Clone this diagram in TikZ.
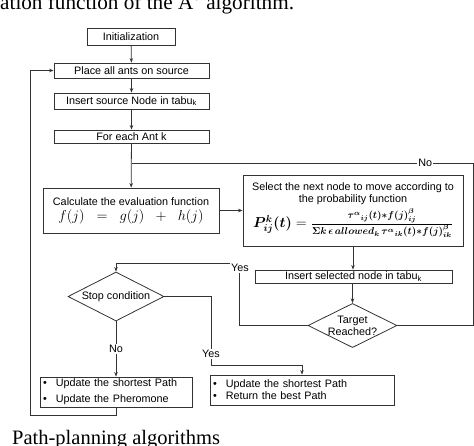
\documentclass[tikz,border=0pt]{standalone}
\usepackage{amsmath, amssymb, bm}
\usepackage{fontspec}
\setmainfont{Liberation Serif}
\setsansfont{Liberation Sans}
\usetikzlibrary{shapes.geometric, arrows.meta}

\begin{document}
\begin{tikzpicture}[x=1pt, y=-1pt, >={Stealth[length=4.5pt,width=3.5pt]},
  box/.style={draw=black!80, line width=0.8pt, inner sep=0pt, align=center,
    font=\sffamily\fontsize{10.8}{12}\selectfont},
  decision/.style={diamond, aspect=2, draw=black!80, line width=0.8pt, inner sep=0pt,
    align=center, font=\sffamily\fontsize{10.8}{12}\selectfont},
  flow/.style={draw=black!80, line width=0.8pt},
  lbl/.style={fill=white, inner sep=1pt, font=\sffamily\fontsize{10.8}{12}\selectfont}]
\useasboundingbox (0,0) rectangle (474,445);
\clip (0,0) rectangle (474,445);
\node[anchor=base west, inner sep=0pt, font=\fontsize{21.2}{24}\selectfont] (toptext) at (0,9) {ation function of the A$^*$ algorithm.};
\node[anchor=base west, inner sep=0pt, font=\fontsize{20.5}{24}\selectfont] (bottext) at (12,444.5) {Path-planning algorithms};

\node[box, minimum width=88pt, minimum height=17pt] (init) at (131,36.5) {Initialization};
\node[box, minimum width=155pt, minimum height=15pt] (place) at (131.5,70.5) {Place all ants on source};
\node[box, minimum width=155pt, minimum height=16pt] (insert) at (131.5,101) {Insert source Node in tabu\textsubscript{k}};
\node[box, minimum width=155pt, minimum height=13pt] (foreach) at (131.5,136.5) {For each Ant k};
\node[box, minimum width=176pt, minimum height=45pt] (calc) at (131,210.5) {Calculate the evaluation function\\[3pt]
  {\fontsize{14.5}{15}\selectfont $f(j) \;\;=\;\; g(j) \;\;+\;\; h(j)$}};
\node[box, minimum width=220pt, minimum height=71pt] (select) at (353,210.5) {Select the next node to move according to\\
  the probability function\\[3pt]
  {\fontsize{14.5}{15}\selectfont $\bm{P^k_{ij}(t)} = \frac{\bm{\tau^{\alpha}{}_{ij}(t) * f(j)^{\beta}_{ij}}}{\bm{\Sigma k\,\epsilon\,allowed_k\,\tau^{\alpha}{}_{ik}(t) * f(j)^{\beta}_{ik}}}$}};
\node[box, minimum width=197pt, minimum height=13pt] (insel) at (353.5,276.5) {Insert selected node in tabu\textsubscript{k}};
\node[decision, minimum width=89pt, minimum height=43pt] (target) at (352.5,325.5) {Target\\Reached?};
\node[decision, minimum width=96pt, minimum height=49pt] (stop) at (116,296.5) {Stop condition};
\node[box, minimum width=152pt, minimum height=30pt, text width=146pt, align=left] (upd) at (116,392)
  {\textbullet\hspace{9pt}Update the shortest Path\\[4pt]\textbullet\hspace{9pt}Update the Pheromone};
\node[box, minimum width=184pt, minimum height=30pt, text width=178pt, align=left] (ret) at (302,390)
  {\textbullet\hspace{9pt}Update the shortest Path\\\textbullet\hspace{9pt}Return the best Path};

\coordinate (nojoin) at (131.5,163);
\coordinate (noright) at (473,163);
\coordinate (yescorner) at (239,263);
\coordinate (yesbend) at (211,365);
\coordinate (loopcorner) at (30,415);

\draw[flow,->] (init) -- (place);
\draw[flow,->] (place) -- (insert);
\draw[flow,->] (insert) -- (foreach);
\draw[flow,->] (foreach) -- (calc);
\draw[flow,->] (calc) -- (select);
\draw[flow,->] (select.south) -- (select.south |- insel.north);
\draw[flow,->] (insel.south -| target.north) -- (target.north);
\draw[flow] (target.east) -| (noright) -- node[lbl, pos=0.14] {No} (nojoin);
\draw[flow,->] (target.west) -| (yescorner) node[lbl, xshift=1pt, yshift=-5pt] {Yes} -| (stop.north);
\draw[flow,->] (stop.south) -- node[lbl] {No} (upd.north);
\draw[flow,->] (stop.east) -| node[lbl, pos=0.92] {Yes} (yesbend) -| (ret.north);
\draw[flow,->] (upd.south) |- (loopcorner) |- (place.west);
\end{tikzpicture}
\end{document}
